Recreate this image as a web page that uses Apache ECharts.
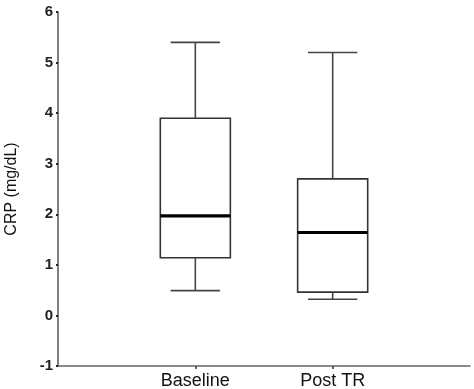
<!DOCTYPE html>
<html>
<head>
<meta charset="utf-8">
<script src="https://cdn.jsdelivr.net/npm/echarts@6/dist/echarts.min.js"></script>
<style>html,body{margin:0;padding:0;background:#fff;}#c{width:474px;height:389px;}</style>
</head>
<body>
<div id="c"></div>
<script>
var categories = ['Baseline', 'Post TR'];
var lowWhisker = [0.49, 0.32];
var q1 = [1.14, 0.46];
var median = [1.97, 1.64];
var q3 = [3.90, 2.70];
var highWhisker = [5.40, 5.20];
var yTicks = [-1, 0, 1, 2, 3, 4, 5, 6];

var axisCats = [''].concat(categories).concat(['']);
var boxData = categories.map(function (c, i) {
  return [i + 1, lowWhisker[i], q1[i], median[i], q3[i], highWhisker[i]];
});

var chart = echarts.init(document.getElementById('c'));
chart.setOption({
  animation: false,
  grid: { left: 58, right: 4, top: 12, bottom: 23, containLabel: false, outerBoundsMode: 'none' },
  xAxis: {
    type: 'category',
    data: axisCats,
    boundaryGap: false,
    axisLine: { onZero: false, lineStyle: { color: '#666', width: 1.5 } },
    axisTick: { show: true, length: 3, inside: false, interval: function (i) { return i === 1 || i === 2; }, lineStyle: { color: '#333', width: 1.5 } },
    axisLabel: { interval: 0, margin: 6, fontSize: 18, color: '#111', fontFamily: 'Liberation Sans, Arial, sans-serif' },
    splitLine: { show: false }
  },
  yAxis: {
    type: 'value',
    min: yTicks[0],
    max: yTicks[yTicks.length - 1],
    interval: 1,
    name: 'CRP (mg/dL)',
    nameLocation: 'middle',
    nameGap: 38,
    nameTextStyle: { fontSize: 16, color: '#111', fontFamily: 'Liberation Sans, Arial, sans-serif' },
    axisLine: { show: true, lineStyle: { color: '#555', width: 1.5 } },
    axisTick: { show: true, length: 2, lineStyle: { color: '#222', width: 2 } },
    axisLabel: { margin: 5, fontSize: 15, fontWeight: 'bold', color: '#222', fontFamily: 'Liberation Sans, Arial, sans-serif' },
    splitLine: { show: false }
  },
  series: [{
    type: 'custom',
    data: boxData,
    encode: { x: 0, y: [1, 2, 3, 4, 5] },
    renderItem: function (params, api) {
      var x = api.value(0);
      var band = api.size([1, 0])[0];
      var boxHalf = band * 0.255;
      var capHalf = band * 0.18;
      var pLow = api.coord([x, api.value(1)]);
      var pQ1 = api.coord([x, api.value(2)]);
      var pMed = api.coord([x, api.value(3)]);
      var pQ3 = api.coord([x, api.value(4)]);
      var pHigh = api.coord([x, api.value(5)]);
      var cx = pMed[0];
      var ls = { stroke: '#444', lineWidth: 1.6 };
      return {
        type: 'group',
        children: [
          { type: 'line', shape: { x1: cx, y1: pHigh[1], x2: cx, y2: pQ3[1] }, style: ls },
          { type: 'line', shape: { x1: cx, y1: pLow[1], x2: cx, y2: pQ1[1] }, style: ls },
          { type: 'line', shape: { x1: cx - capHalf, y1: pHigh[1], x2: cx + capHalf, y2: pHigh[1] }, style: ls },
          { type: 'line', shape: { x1: cx - capHalf, y1: pLow[1], x2: cx + capHalf, y2: pLow[1] }, style: ls },
          { type: 'rect', shape: { x: cx - boxHalf, y: pQ3[1], width: boxHalf * 2, height: pQ1[1] - pQ3[1] }, style: { fill: '#fff', stroke: '#333', lineWidth: 1.6 } },
          { type: 'line', shape: { x1: cx - boxHalf, y1: pMed[1], x2: cx + boxHalf, y2: pMed[1] }, style: { stroke: '#000', lineWidth: 3.2 } }
        ]
      };
    }
  }]
});
</script>
</body>
</html>
